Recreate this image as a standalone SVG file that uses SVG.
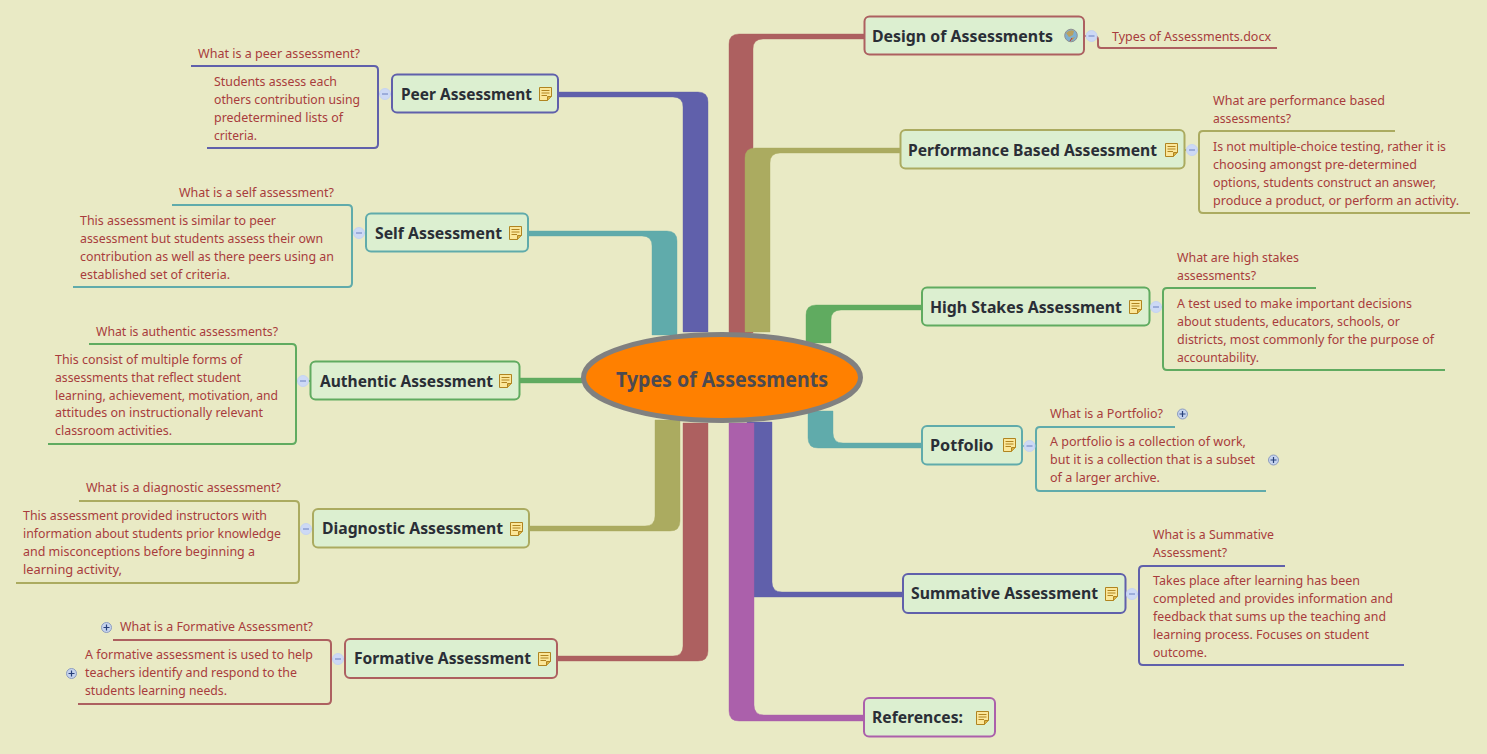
<svg xmlns="http://www.w3.org/2000/svg" xmlns:xlink="http://www.w3.org/1999/xlink" width="1487" height="754" viewBox="0 0 1487 754">
<style>
text{font-family:"Noto Sans","DejaVu Sans",sans-serif}
.n{font-size:16.5px;font-weight:700;fill:#2a2e36}
.t{font-size:12.5px;fill:#a83c3c}
.c{font-size:20.5px;font-weight:700;fill:#4c4a50}
.box{fill:#dcefd0;stroke-width:2}
.line{fill:none;stroke-width:2}
.band{stroke-width:1;stroke-opacity:.4}
.red{stroke:#ad6060}.oli{stroke:#abab60}.grn{stroke:#60ab60}.tea{stroke:#60abab}.blu{stroke:#6060ab}.pur{stroke:#ab60ab}
.fred{fill:#ad6060}.foli{fill:#abab60}.fgrn{fill:#60ab60}.ftea{fill:#60abab}.fblu{fill:#6060ab}.fpur{fill:#ab60ab}
</style>
<defs>
<g id="note"><path d="M0.5 0.5H12.5V9.5L8.5 13.5H0.5Z" fill="#fbe79a" stroke="#b08420"/><path d="M2.5 3.5H10.500M2.5 6H10.500M2.5 8.500H8" stroke="#b08420" fill="none"/><path d="M8.500 13.500V9.500H12.500" fill="#d8b040" stroke="#b08420"/></g>
<g id="minus"><circle r="5.500" fill="#cdd9f5" stroke="#c6d4f0"/><path d="M-3 0H3" stroke="#6a80c0"/></g>
<g id="plus"><circle r="5" fill="#c6d4ee" stroke="#8c9cc0"/><path d="M-3 0H3M0 -3V3" stroke="#27407a" stroke-width="1.200"/></g>
</defs>
<rect width="1487" height="754" fill="#e9eac5"/>
<g id="connectors">
<path class="band fred red" d="M729 333V44Q729 34 739 34H864V39H763Q753 39 753 49V333Z"/>
<path class="band foli oli" d="M745 332V158Q745 148 755 148H900V153H780Q770 153 770 163V332Z"/>
<path class="band fgrn grn" d="M806 343V315Q806 305 816 305H922V310H841Q831 310 831 320V343Z"/>
<path class="band ftea tea" d="M808 411V438Q808 448 818 448H922V443H843Q833 443 833 433V411Z"/>
<path class="band fblu blu" d="M747 422H772V582Q772 592 782 592H903V597H747Z"/>
<path class="band fpur pur" d="M729 423V711Q729 721 739 721H864V715H764Q754 715 754 705V423Z"/>
<path class="band fblu blu" d="M558 92H698Q708 92 708 102V332H683V107Q683 97 673 97H558Z"/>
<path class="band ftea tea" d="M528 231H667Q677 231 677 241V335H652V246Q652 236 642 236H528Z"/>
<path class="band fgrn grn" d="M520 378H582V383H520Z"/>
<path class="band foli oli" d="M529 526H645Q655 526 655 516V420H680V521Q680 531 670 531H529Z"/>
<path class="band fred red" d="M557 656H673Q683 656 683 646V423H708V651Q708 661 698 661H557Z"/>
<path class="line red" d="M1084 36H1094Q1098 36 1098 40V45Q1098 48 1101 48H1277"/>
<path class="line oli" d="M1185 150H1199"/>
<path class="line oli" d="M1395 131H1203Q1199 131 1199 135V209Q1199 213 1203 213H1470"/>
<path class="line grn" d="M1150 307H1163"/>
<path class="line grn" d="M1316 288H1167Q1163 288 1163 292V366Q1163 370 1167 370H1445"/>
<path class="line tea" d="M1022 446H1036"/>
<path class="line tea" d="M1175 427H1040Q1036 427 1036 431V487Q1036 491 1040 491H1266"/>
<path class="line blu" d="M1126 594H1139"/>
<path class="line blu" d="M1285 566H1143Q1139 566 1139 570V661Q1139 665 1143 665H1404"/>
<path class="line blu" d="M391 94H378"/>
<path class="line blu" d="M191 66H374Q378 66 378 70V144Q378 148 374 148H207"/>
<path class="line tea" d="M365 233H352"/>
<path class="line tea" d="M172 205H348Q352 205 352 209V283Q352 287 348 287H73"/>
<path class="line grn" d="M310 381H296"/>
<path class="line grn" d="M89 344H292Q296 344 296 348V440Q296 444 292 444H48"/>
<path class="line oli" d="M312 529H299"/>
<path class="line oli" d="M79 501H295Q299 501 299 505V579Q299 583 295 583H16"/>
<path class="line red" d="M344 659H331"/>
<path class="line red" d="M113 640H327Q331 640 331 644V700Q331 704 327 704H78"/>
</g>
<g id="center"><ellipse cx="722" cy="377.500" rx="138.500" ry="43" fill="#ff8000" stroke="#808080" stroke-width="5"/><text class="c" x="616" y="387" textLength="212" lengthAdjust="spacingAndGlyphs">Types of Assessments</text></g>
<g id="design"><rect class="box red" x="864.500" y="16.500" width="219.500" height="38" rx="5"/><text class="n" x="872" y="42" textLength="181" lengthAdjust="spacingAndGlyphs">Design of Assessments</text><circle cx="1071" cy="35.500" r="6.300" fill="#7fb0d0" stroke="#909090"/><path d="M1066 33Q1070 29 1074 31L1073 35L1069 37ZM1071 38L1075 37L1072 41Z" fill="#b8a060"/><path d="M1070 41L1072 38" stroke="#c03030"/><use xlink:href="#minus" href="#minus" x="1091.500" y="36"/><text class="t" x="1112" y="41" textLength="159" lengthAdjust="spacingAndGlyphs">Types of Assessments.docx</text></g>
<g id="performance"><rect class="box oli" x="900.500" y="130" width="284" height="38.500" rx="5"/><text class="n" x="908" y="156" textLength="249" lengthAdjust="spacingAndGlyphs">Performance Based Assessment</text><use xlink:href="#note" href="#note" x="1165" y="143"/><use xlink:href="#minus" href="#minus" x="1192" y="150"/>
<text class="t" x="1213" y="105" textLength="172" lengthAdjust="spacingAndGlyphs">What are performance based</text><text class="t" x="1213" y="123" textLength="78" lengthAdjust="spacingAndGlyphs">assessments?</text>
<text class="t" x="1213" y="151" textLength="233" lengthAdjust="spacingAndGlyphs">Is not multiple-choice testing, rather it is</text><text class="t" x="1213" y="169" textLength="204" lengthAdjust="spacingAndGlyphs">choosing amongst pre-determined</text><text class="t" x="1213" y="187" textLength="223" lengthAdjust="spacingAndGlyphs">options, students construct an answer,</text><text class="t" x="1213" y="205" textLength="246" lengthAdjust="spacingAndGlyphs">produce a product, or perform an activity.</text></g>
<g id="highstakes"><rect class="box grn" x="922" y="287.500" width="227.500" height="38" rx="5"/><text class="n" x="930" y="313" textLength="192" lengthAdjust="spacingAndGlyphs">High Stakes Assessment</text><use xlink:href="#note" href="#note" x="1129" y="300"/><use xlink:href="#minus" href="#minus" x="1156" y="307"/>
<text class="t" x="1177" y="262" textLength="122" lengthAdjust="spacingAndGlyphs">What are high stakes</text><text class="t" x="1177" y="280" textLength="79" lengthAdjust="spacingAndGlyphs">assessments?</text>
<text class="t" x="1177" y="308" textLength="235" lengthAdjust="spacingAndGlyphs">A test used to make important decisions</text><text class="t" x="1177" y="326" textLength="223" lengthAdjust="spacingAndGlyphs">about students, educators, schools, or</text><text class="t" x="1177" y="344" textLength="257" lengthAdjust="spacingAndGlyphs">districts, most commonly for the purpose of</text><text class="t" x="1177" y="362" textLength="82" lengthAdjust="spacingAndGlyphs">accountability.</text></g>
<g id="portfolio"><rect class="box tea" x="922" y="426" width="100" height="38.500" rx="5"/><text class="n" x="930" y="451" textLength="63.500" lengthAdjust="spacingAndGlyphs">Potfolio</text><use xlink:href="#note" href="#note" x="1003" y="438"/><use xlink:href="#minus" href="#minus" x="1029.500" y="446"/>
<text class="t" x="1050" y="418" textLength="113" lengthAdjust="spacingAndGlyphs">What is a Portfolio?</text><use xlink:href="#plus" href="#plus" x="1182.500" y="414"/>
<text class="t" x="1050" y="446" textLength="196" lengthAdjust="spacingAndGlyphs">A portfolio is a collection of work,</text><text class="t" x="1050" y="464" textLength="205" lengthAdjust="spacingAndGlyphs">but it is a collection that is a subset</text><text class="t" x="1050" y="482" textLength="110" lengthAdjust="spacingAndGlyphs">of a larger archive.</text><use xlink:href="#plus" href="#plus" x="1273.500" y="460"/></g>
<g id="summative"><rect class="box blu" x="903" y="574" width="222.500" height="39" rx="5"/><text class="n" x="911" y="599" textLength="187" lengthAdjust="spacingAndGlyphs">Summative Assessment</text><use xlink:href="#note" href="#note" x="1105" y="587"/><use xlink:href="#minus" href="#minus" x="1132" y="594"/>
<text class="t" x="1153" y="539" textLength="121" lengthAdjust="spacingAndGlyphs">What is a Summative</text><text class="t" x="1153" y="557" textLength="74" lengthAdjust="spacingAndGlyphs">Assessment?</text>
<text class="t" x="1153" y="585" textLength="207" lengthAdjust="spacingAndGlyphs">Takes place after learning has been</text><text class="t" x="1153" y="603" textLength="240" lengthAdjust="spacingAndGlyphs">completed and provides information and</text><text class="t" x="1153" y="621" textLength="233" lengthAdjust="spacingAndGlyphs">feedback that sums up the teaching and</text><text class="t" x="1153" y="639" textLength="216" lengthAdjust="spacingAndGlyphs">learning process. Focuses on student</text><text class="t" x="1153" y="657" textLength="54" lengthAdjust="spacingAndGlyphs">outcome.</text></g>
<g id="references"><rect class="box pur" x="864" y="698" width="131" height="38.500" rx="5"/><text class="n" x="872" y="723" textLength="91" lengthAdjust="spacingAndGlyphs">References:</text><use xlink:href="#note" href="#note" x="976" y="711"/></g>
<g id="peer"><rect class="box blu" x="392" y="74.500" width="166" height="38" rx="5"/><text class="n" x="401" y="100" textLength="131" lengthAdjust="spacingAndGlyphs">Peer Assessment</text><use xlink:href="#note" href="#note" x="539" y="87"/><use xlink:href="#minus" href="#minus" x="385" y="94"/>
<text class="t" x="198" y="58" textLength="162" lengthAdjust="spacingAndGlyphs">What is a peer assessment?</text>
<text class="t" x="214" y="86" textLength="123" lengthAdjust="spacingAndGlyphs">Students assess each</text><text class="t" x="214" y="104" textLength="146" lengthAdjust="spacingAndGlyphs">others contribution using</text><text class="t" x="214" y="122" textLength="129" lengthAdjust="spacingAndGlyphs">predetermined lists of</text><text class="t" x="214" y="140" textLength="43" lengthAdjust="spacingAndGlyphs">criteria.</text></g>
<g id="self"><rect class="box tea" x="366" y="213.500" width="162" height="38" rx="5"/><text class="n" x="375" y="239" textLength="127" lengthAdjust="spacingAndGlyphs">Self Assessment</text><use xlink:href="#note" href="#note" x="509" y="226"/><use xlink:href="#minus" href="#minus" x="359" y="233"/>
<text class="t" x="179" y="197" textLength="155" lengthAdjust="spacingAndGlyphs">What is a self assessment?</text>
<text class="t" x="80" y="225" textLength="196" lengthAdjust="spacingAndGlyphs">This assessment is similar to peer</text><text class="t" x="80" y="243" textLength="243" lengthAdjust="spacingAndGlyphs">assessment but students assess their own</text><text class="t" x="80" y="261" textLength="254" lengthAdjust="spacingAndGlyphs">contribution as well as there peers using an</text><text class="t" x="80" y="279" textLength="150" lengthAdjust="spacingAndGlyphs">established set of criteria.</text></g>
<g id="authentic"><rect class="box grn" x="310.500" y="361.500" width="209" height="38" rx="5"/><text class="n" x="320" y="387" textLength="173" lengthAdjust="spacingAndGlyphs">Authentic Assessment</text><use xlink:href="#note" href="#note" x="499" y="374"/><use xlink:href="#minus" href="#minus" x="303" y="381"/>
<text class="t" x="96" y="336" textLength="182" lengthAdjust="spacingAndGlyphs">What is authentic assessments?</text>
<text class="t" x="55" y="364" textLength="187" lengthAdjust="spacingAndGlyphs">This consist of multiple forms of</text><text class="t" x="55" y="382" textLength="186" lengthAdjust="spacingAndGlyphs">assessments that reflect student</text><text class="t" x="55" y="400" textLength="223" lengthAdjust="spacingAndGlyphs">learning, achievement, motivation, and</text><text class="t" x="55" y="417" textLength="208" lengthAdjust="spacingAndGlyphs">attitudes on instructionally relevant</text><text class="t" x="55" y="435" textLength="117" lengthAdjust="spacingAndGlyphs">classroom activities.</text></g>
<g id="diagnostic"><rect class="box oli" x="313" y="509" width="216" height="38.500" rx="5"/><text class="n" x="322" y="534" textLength="181" lengthAdjust="spacingAndGlyphs">Diagnostic Assessment</text><use xlink:href="#note" href="#note" x="510" y="522"/><use xlink:href="#minus" href="#minus" x="306" y="529"/>
<text class="t" x="86" y="492" textLength="195" lengthAdjust="spacingAndGlyphs">What is a diagnostic assessment?</text>
<text class="t" x="23" y="520" textLength="244" lengthAdjust="spacingAndGlyphs">This assessment provided instructors with</text><text class="t" x="23" y="538" textLength="258" lengthAdjust="spacingAndGlyphs">information about students prior knowledge</text><text class="t" x="23" y="556" textLength="232" lengthAdjust="spacingAndGlyphs">and misconceptions before beginning a</text><text class="t" x="23" y="574" textLength="99" lengthAdjust="spacingAndGlyphs">learning activity,</text></g>
<g id="formative"><rect class="box red" x="345" y="639" width="212" height="39" rx="5"/><text class="n" x="354" y="664" textLength="177" lengthAdjust="spacingAndGlyphs">Formative Assessment</text><use xlink:href="#note" href="#note" x="538" y="652"/><use xlink:href="#minus" href="#minus" x="338" y="659"/>
<text class="t" x="120" y="631" textLength="193" lengthAdjust="spacingAndGlyphs">What is a Formative Assessment?</text><use xlink:href="#plus" href="#plus" x="106.500" y="627.500"/>
<text class="t" x="85" y="659" textLength="228" lengthAdjust="spacingAndGlyphs">A formative assessment is used to help</text><text class="t" x="85" y="677" textLength="212" lengthAdjust="spacingAndGlyphs">teachers identify and respond to the</text><text class="t" x="85" y="695" textLength="142" lengthAdjust="spacingAndGlyphs">students learning needs.</text><use xlink:href="#plus" href="#plus" x="71.500" y="673.500"/></g>
</svg>
